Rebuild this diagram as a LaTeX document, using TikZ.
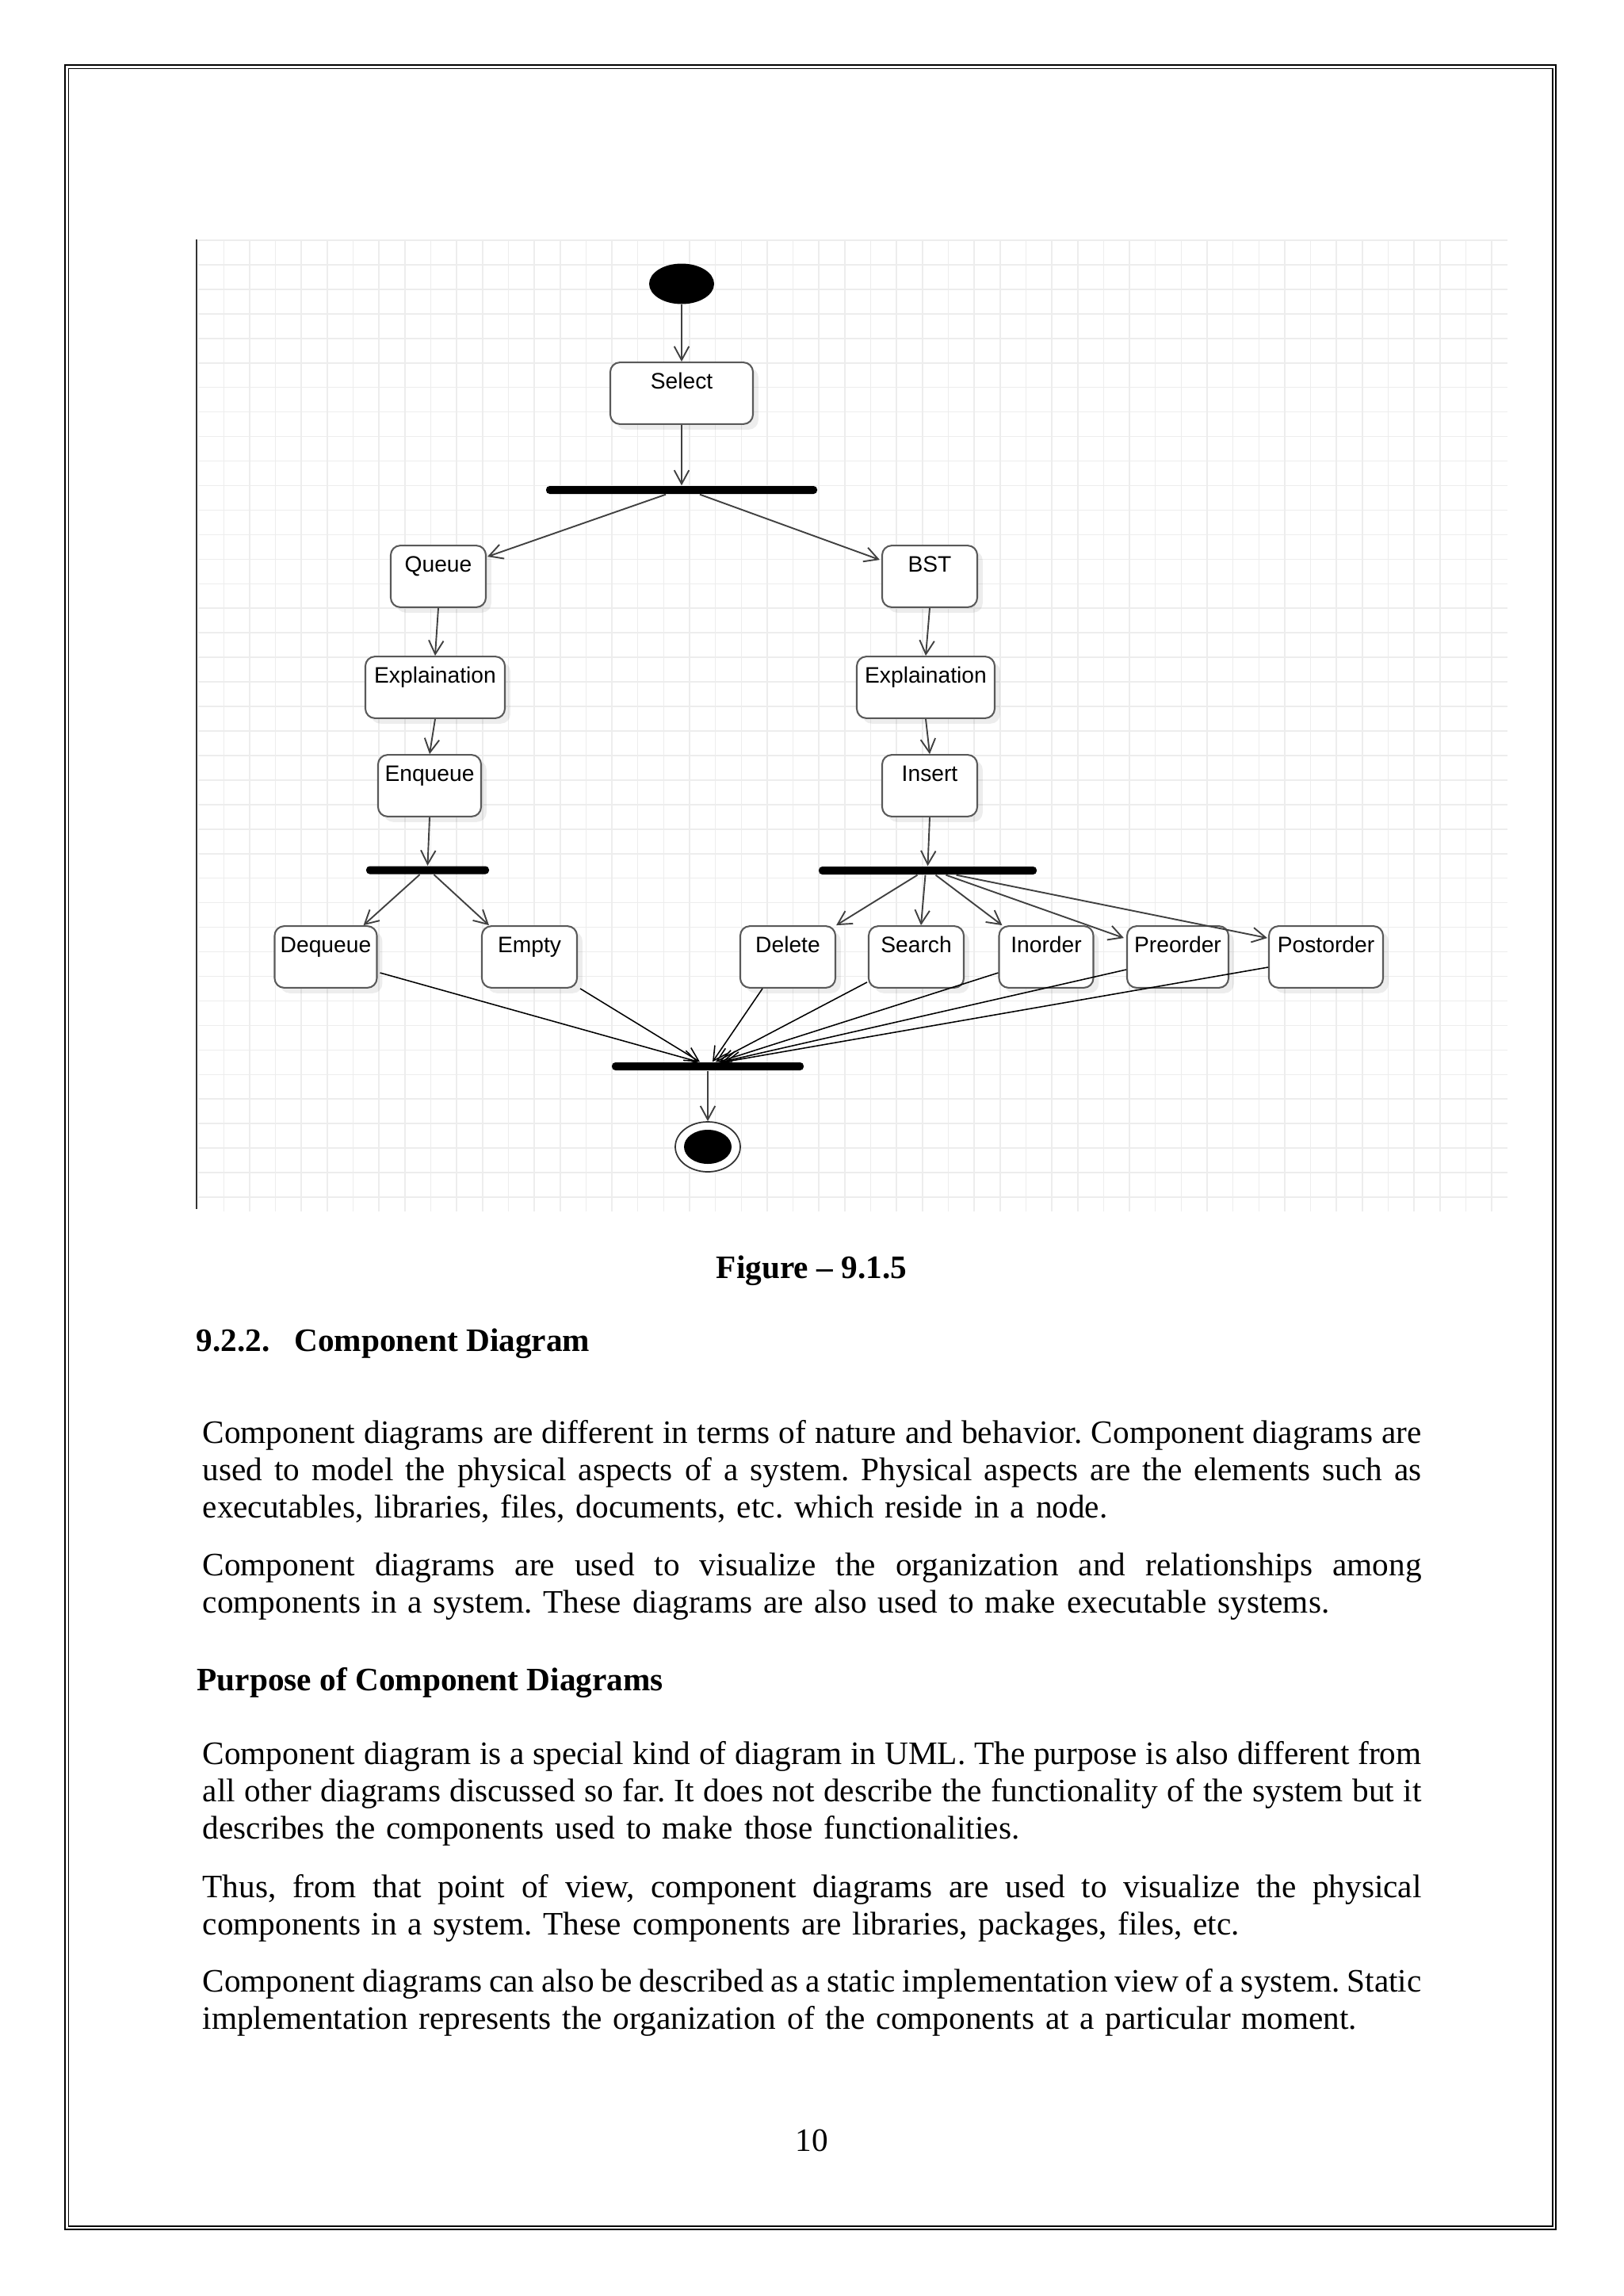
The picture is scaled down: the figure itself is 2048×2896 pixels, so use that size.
\documentclass[tikz,border=0pt]{standalone}
\usepackage{fontspec}
\setmainfont{Liberation Serif}
\newfontfamily\umlfont{Liberation Sans}
\usetikzlibrary{arrows.meta,calc,shapes.geometric,shadows}
\frenchspacing

% one pixel of the page
\newcommand{\px}{0.29067pt}
\newlength{\bodyw}
\setlength{\bodyw}{447pt}
\newcommand{\jline}[1]{\leavevmode\hbox to\bodyw{\spaceskip=3pt plus 4pt minus 2pt\relax #1}}

\tikzset{
  actbox/.style={draw=black!65, fill=white, line width=0.6pt, rounded corners=3.5pt,
    font=\umlfont\fontsize{8.2}{9.6}\selectfont, text height=9.7pt, text depth=12.9pt,
    inner ysep=0pt, inner xsep=2pt, minimum width=#1*\px,
    drop shadow={shadow xshift=2pt, shadow yshift=-2pt, fill=black, opacity=0.07}},
  actbox/.default=120,
  bar/.style={fill=black, rounded corners=1.3pt, inner sep=0pt,
    minimum height=10*\px, minimum width=#1*\px},
  flow/.style={draw=black!75, line width=0.55pt, -{Straight Barb[length=5pt,width=5.4pt]}},
  body/.style={font=\fontsize{12}{13.72}\selectfont\frenchspacing, text width=\bodyw, align=left,
    inner sep=0pt, anchor=base west},
  head/.style={font=\bfseries\fontsize{12}{13.72}\selectfont, inner sep=0pt, anchor=base west},
  gridline/.style={draw=black!7, line width=0.45pt}
}

\begin{document}
\begin{tikzpicture}[x=\px, y=-\px]
\useasboundingbox (0,0) rectangle (2048,2896);

%% page frame
\draw[line width=0.55pt] (82,82) rectangle (1963,2812);
\draw[line width=0.55pt] (86.5,86.5) rectangle (1959,2808);

%% grid of the drawing
\foreach \i in {0,...,49}
    \draw[gridline] ({282.3+\i*32.65},302) -- ({282.3+\i*32.65},1528);
\foreach \j in {0,...,39}
    \draw[gridline] (250,{303+\j*30.95}) -- (1902,{303+\j*30.95});
\draw[black!80, line width=0.6pt] (248,302) -- (248,1525);

%% nodes
\node[fill=black, ellipse, minimum width=82*\px, minimum height=51*\px, inner sep=0pt] (start) at (860,358) {};
\node[actbox=180] (select) at (860,496) {Select};
\node[bar=342] (fork) at (860,618) {};

\node[actbox] (queue) at (553,727) {Queue};
\node[actbox=176] (explq) at (549,867) {Explaination};
\node[actbox=130] (enqueue) at (542,991) {Enqueue};
\node[bar=155] (forkq) at (539.5,1097.5) {};

\node[actbox] (bst) at (1173,727) {BST};
\node[actbox=174] (explb) at (1168,867) {Explaination};
\node[actbox] (insert) at (1173,991) {Insert};
\node[bar=275] (forkb) at (1170.5,1098) {};

\node[actbox=129] (dequeue) at (411,1207) {Dequeue};
\node[actbox] (empty) at (668,1207) {Empty};
\node[actbox] (delete) at (994,1207) {Delete};
\node[actbox] (search) at (1156,1207) {Search};
\node[actbox=119] (inorder) at (1320,1207) {Inorder};
\node[actbox=128] (preorder) at (1486,1207) {Preorder};
\node[actbox=144] (postorder) at (1673,1207) {Postorder};

\node[bar=242] (join) at (893,1345) {};
\node[draw=black!80, line width=0.5pt, fill=white, ellipse, minimum width=82*\px, minimum height=63*\px, inner sep=0pt] (finish) at (893,1446.5) {};
\node[fill=black, ellipse, minimum width=60*\px, minimum height=43*\px, inner sep=0pt] (finishdot) at (finish.center) {};

%% flows
\draw[flow] (start) -- (select.north);
\draw[flow] (select.south) -- (fork.north);
\draw[flow] ($(fork.south)+(-20,0)$) -- ($(queue.north east)+(1,15)$);
\draw[flow] ($(fork.south)+(23,0)$) -- ($(bst.north west)+(-2,19)$);

\draw[flow] (queue.south) -- (explq.north);
\draw[flow] (explq.south) -- (enqueue.north);
\draw[flow] (enqueue.south) -- (forkq.north);
\draw[flow] ($(forkq.south)+(-10,0)$) -- ($(dequeue.north east)+(-18,0)$);
\draw[flow] ($(forkq.south)+(8,0)$) -- ($(empty.north west)+(10,0)$);

\draw[flow] (bst.south) -- (explb.north);
\draw[flow] (explb.south) -- (insert.north);
\draw[flow] (insert.south) -- (forkb.north);
\draw[flow] ($(forkb.south)+(-13,0)$) -- (delete.north east);
\draw[flow] ($(forkb.south)+(-3,0)$) -- ($(search.north)+(6,0)$);
\draw[flow] ($(forkb.south)+(10,0)$) -- ($(inorder.north west)+(5,0)$);
\draw[flow] ($(forkb.south)+(23,0)$) -- ($(preorder.north west)+(-3,16)$);
\draw[flow] ($(forkb.south)+(36,0)$) -- ($(postorder.north west)+(-1,16)$);

\draw[flow, draw=black, line width=0.45pt] ($(dequeue.east)+(3,20)$) -- ($(join.north)+(-12,0)$);
\draw[flow, draw=black, line width=0.45pt] ($(empty.south east)+(3,0)$) -- ($(join.north)+(-10,0)$);
\draw[flow, draw=black, line width=0.45pt] ($(delete.south)+(-32,0)$) -- ($(join.north)+(6,0)$);
\draw[flow, draw=black, line width=0.45pt] ($(search.south west)+(-1,-8)$) -- ($(join.north)+(10,0)$);
\draw[flow, draw=black, line width=0.45pt] ($(inorder.west)+(0,20)$) -- ($(join.north)+(14,0)$);
\draw[flow, draw=black, line width=0.45pt] ($(preorder.west)+(0,16)$) -- ($(join.north)+(18,0)$);
\draw[flow, draw=black, line width=0.45pt] ($(postorder.west)+(0,13)$) -- ($(join.north)+(22,0)$);
\draw[flow] (join.south) -- (finish.north);

%% text of the page
\node[head, anchor=base] (caption) at (1024,1612) {Figure -- 9.1.5};
\node[head] (secttitle) at (247,1704) {9.2.2.\hspace{9pt}Component Diagram};

\node[body] (para1) at (255,1820) {\jline{Component diagrams are different in terms of nature and behavior. Component diagrams are}\\
\jline{used to model the physical aspects of a system. Physical aspects are the elements such as}\\
executables, libraries, files, documents, etc. which reside in a node.};

\node[body] (para2) at (255,1987) {\jline{Component diagrams are used to visualize the organization and relationships among}\\
components in a system. These diagrams are also used to make executable systems.};

\node[head] (purpose) at (248,2132) {Purpose of Component Diagrams};

\node[body] (para3) at (255,2225) {\jline{Component diagram is a special kind of diagram in UML. The purpose is also different from}\\
\jline{all other diagrams discussed so far. It does not describe the functionality of the system but it}\\
describes the components used to make those functionalities.};

\node[body] (para4) at (255,2393) {\jline{Thus, from that point of view, component diagrams are used to visualize the physical}\\
components in a system. These components are libraries, packages, files, etc.};

\node[body] (para5) at (255,2512) {\jline{Component diagrams can also be described as a static implementation view of a system. Static}\\
implementation represents the organization of the components at a particular moment.};

\node[font=\fontsize{12}{13.72}\selectfont, anchor=base, inner sep=0pt] (pagenum) at (1024,2713) {10};
\end{tikzpicture}
\end{document}
